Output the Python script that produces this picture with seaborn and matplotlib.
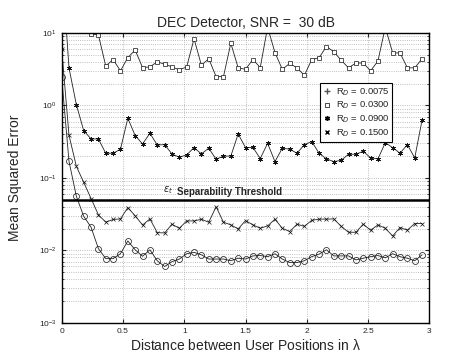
import numpy as np
import pandas as pd
import matplotlib
matplotlib.use("Agg")
import matplotlib.pyplot as plt
from matplotlib.lines import Line2D
import seaborn as sns

# distance between users (in wavelengths), step 0.06
dist = np.round(np.arange(50) * 0.06, 2)

# MSE curves (NaN / >10 = off the top of the axes)
mse_0300 = [np.nan, np.nan, np.nan, np.nan, 9.6, 9.4, 3.5, 4.3, 3.0, 4.57,
            5.8, 3.33, 3.4, 4.0, 3.7, 3.4, 3.1, 3.4, 8.3, 3.6,
            4.4, 2.5, 2.5, 7.2, 3.3, 3.15, 4.3, 3.33, 12.0, 5.35,
            3.15, 3.8, 3.3, 2.6, 4.3, 4.55, 6.5, 5.5, 4.2, 3.3,
            3.85, 3.85, 3.0, 4.1, 12.0, 5.3, 5.3, 3.3, 3.3, 4.4]
mse_0900 = [100.0, 3.3, 1.03, 0.45, 0.345, 0.345, 0.219, 0.219, 0.249, 0.665,
            0.384, 0.294, 0.413, 0.285, 0.288, 0.214, 0.193, 0.208, 0.262, 0.214,
            0.257, 0.181, 0.2, 0.2, 0.404, 0.262, 0.264, 0.185, 0.30, 0.168,
            0.257, 0.249, 0.219, 0.288, 0.317, 0.219, 0.183, 0.168, 0.175, 0.212,
            0.212, 0.233, 0.189, 0.183, 0.306, 0.262, 0.219, 0.288, 0.189, 0.63]
mse_1500 = [6.1, 0.388, 0.145, 0.087, 0.052, 0.031, 0.0245, 0.0267, 0.0272, 0.039,
            0.030, 0.0224, 0.0272, 0.0176, 0.0174, 0.023, 0.0202, 0.0255, 0.0255, 0.0269,
            0.0245, 0.040, 0.0245, 0.0225, 0.0198, 0.0258, 0.0225, 0.0202, 0.0218, 0.0269,
            0.0202, 0.0182, 0.023, 0.0215, 0.026, 0.027, 0.027, 0.0272, 0.0215, 0.0178,
            0.0178, 0.023, 0.019, 0.0225, 0.0202, 0.0158, 0.0207, 0.019, 0.0235, 0.0235]
mse_circ = [2.5, 0.17, 0.056, 0.0296, 0.0209, 0.0106, 0.0077, 0.0077, 0.009, 0.0135,
            0.0102, 0.0083, 0.0102, 0.0072, 0.006, 0.007, 0.0076, 0.009, 0.0094, 0.0087,
            0.0076, 0.0076, 0.0076, 0.0072, 0.0078, 0.0076, 0.0084, 0.0085, 0.0082, 0.009,
            0.0076, 0.0068, 0.0068, 0.0072, 0.0082, 0.0089, 0.0102, 0.0084, 0.0084, 0.0084,
            0.0074, 0.0078, 0.0082, 0.0085, 0.0079, 0.009, 0.0082, 0.0078, 0.0072, 0.0087]

threshold = 0.05
legend_labels = ["0.0075", "0.0300", "0.0900", "0.1500"]

sns.set_style("ticks")
plt.rcParams['font.family'] = ['Liberation Sans', 'DejaVu Sans']

fig = plt.figure(figsize=(4.74, 3.62), dpi=100)
ax = fig.add_axes([0.130, 0.108, 0.776, 0.801])

series = [
    (mse_0300, dict(marker='s', markersize=3.3, markerfacecolor='white')),
    (mse_0900, dict(marker=(6, 2, 0), markersize=3.6, markerfacecolor='black')),
    (mse_1500, dict(marker='x', markersize=3.0, markerfacecolor='black')),
    (mse_circ, dict(marker='o', markersize=4.3, markerfacecolor='none')),
]
for vals, style in series:
    df = pd.DataFrame({'d': dist, 'mse': vals})
    sns.lineplot(data=df, x='d', y='mse', ax=ax, color='#222222', linewidth=0.6,
                 markeredgecolor='#111111', markeredgewidth=0.5, legend=False, **style)

ax.axhline(threshold, color='black', linewidth=1.8)
ax.text(0.83, 0.056, r'$\epsilon_t$', fontsize=7, ha='left', va='bottom')
ax.text(0.94, 0.054, 'Separability Threshold', fontsize=7, fontweight='bold',
        ha='left', va='bottom')

ax.set_yscale('log')
ax.set_xlim(0, 3)
ax.set_ylim(1e-3, 1e1)
ax.set_xticks([0, 0.5, 1, 1.5, 2, 2.5, 3])
ax.set_xticklabels(['0', '0.5', '1', '1.5', '2', '2.5', '3'])
ax.tick_params(which='both', direction='in', top=True, right=True, labelsize=6)
ax.tick_params(which='major', length=3)
ax.tick_params(which='minor', length=1.5)
ax.grid(True, which='both', axis='y', linestyle=':', color='#aaaaaa', linewidth=0.6)
ax.grid(True, which='major', axis='x', linestyle=':', color='#aaaaaa', linewidth=0.6)
for s in ax.spines.values():
    s.set_linewidth(1.0)
    s.set_color('black')

ax.set_title('DEC Detector, SNR =  30 dB', fontsize=10, pad=4)
ax.set_xlabel(r'Distance between User Positions in $\mathregular{\lambda}$', fontsize=10, labelpad=2)
ax.set_ylabel('Mean Squared Error', fontsize=10, labelpad=12)

handles = [
    Line2D([], [], linestyle='none', marker='+', color='#555555', markersize=4),
    Line2D([], [], linestyle='none', marker='s', markerfacecolor='white',
           markeredgecolor='black', markersize=3.3, markeredgewidth=0.5),
    Line2D([], [], linestyle='none', marker=(6, 2, 0), color='black', markersize=3.6),
    Line2D([], [], linestyle='none', marker='x', color='black', markersize=3.0),
]
leg = ax.legend(handles, [r'R$_D$ = ' + v for v in legend_labels],
                loc='upper left', bbox_to_anchor=(0.689, 0.843), fontsize=6.8,
                frameon=True, fancybox=False, edgecolor='black', framealpha=1,
                handlelength=0.9, handletextpad=0.5, borderpad=0.3, labelspacing=0.25)
leg.get_frame().set_linewidth(0.8)

fig.savefig('out.png', dpi=100)
